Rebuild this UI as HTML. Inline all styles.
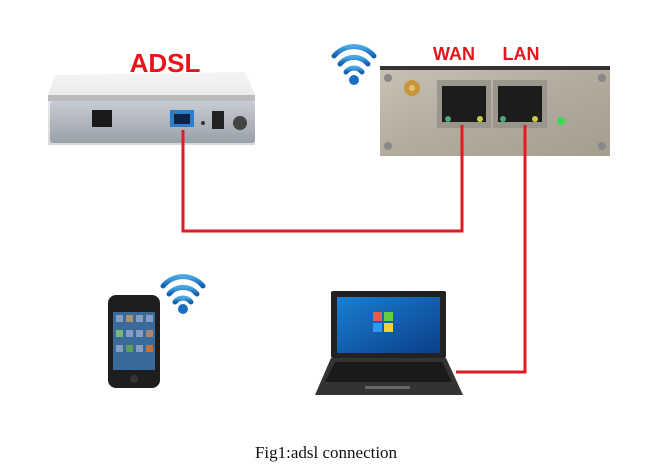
<!DOCTYPE html>
<html><head><meta charset="utf-8"><style>
body{margin:0;background:#fff;width:650px;height:475px;overflow:hidden}
svg{display:block}
</style></head><body>
<svg width="650" height="475" viewBox="0 0 650 475" xmlns="http://www.w3.org/2000/svg">
<defs>
<linearGradient id="mtop" x1="0" y1="0" x2="0" y2="1"><stop offset="0" stop-color="#f4f4f4"/><stop offset="1" stop-color="#d8d8d8"/></linearGradient>
<linearGradient id="mfront" x1="0" y1="0" x2="0" y2="1"><stop offset="0" stop-color="#c8ccd4"/><stop offset="1" stop-color="#9aa0aa"/></linearGradient>
<linearGradient id="rt" x1="0" y1="0" x2="1" y2="1"><stop offset="0" stop-color="#c9c2b4"/><stop offset="0.5" stop-color="#b3ab9d"/><stop offset="1" stop-color="#a59d90"/></linearGradient>
<linearGradient id="scr" x1="0" y1="0" x2="1" y2="1"><stop offset="0" stop-color="#1a7fd0"/><stop offset="1" stop-color="#0a3f8a"/></linearGradient>
<linearGradient id="wf" x1="0" y1="0" x2="0" y2="1"><stop offset="0" stop-color="#4aa7e6"/><stop offset="1" stop-color="#1060b0"/></linearGradient>
</defs>
<!-- ADSL modem -->
<path d="M55 75 L245 72 L255 95 L255 145 L48 145 L48 95 Z" fill="url(#mtop)"/>
<rect x="48" y="95" width="207" height="6" fill="#bbb"/>
<rect x="50" y="101" width="205" height="42" fill="url(#mfront)" rx="3"/>
<rect x="92" y="110" width="20" height="17" fill="#1a1a1a"/>
<rect x="170" y="110" width="24" height="17" fill="#2a7fc8"/>
<rect x="174" y="114" width="16" height="10" fill="#124"/>
<circle cx="203" cy="123" r="2" fill="#333"/>
<rect x="212" y="111" width="12" height="18" fill="#222"/>
<circle cx="240" cy="123" r="7" fill="#444"/>
<text x="165" y="72" text-anchor="middle" font-family="Liberation Sans, sans-serif" font-weight="bold" font-size="26" fill="#e8141c">ADSL</text>
<!-- router -->
<rect x="380" y="68" width="230" height="88" fill="url(#rt)"/>
<rect x="380" y="66" width="230" height="4" fill="#333"/>
<circle cx="388" cy="78" r="4" fill="#888"/><circle cx="602" cy="78" r="4" fill="#888"/>
<circle cx="388" cy="146" r="4" fill="#888"/><circle cx="602" cy="146" r="4" fill="#888"/>
<circle cx="412" cy="88" r="8" fill="#c8963a"/><circle cx="412" cy="88" r="3" fill="#e8c070"/>
<rect x="437" y="80" width="54" height="48" fill="#9a968c"/>
<rect x="442" y="86" width="44" height="36" fill="#1c1c1c"/>
<rect x="493" y="80" width="54" height="48" fill="#9a968c"/>
<rect x="498" y="86" width="44" height="36" fill="#1c1c1c"/>
<circle cx="448" cy="119" r="3" fill="#4a7"/><circle cx="480" cy="119" r="3" fill="#cc4"/>
<circle cx="503" cy="119" r="3" fill="#4a7"/><circle cx="535" cy="119" r="3" fill="#cc4"/>
<circle cx="561" cy="121" r="4" fill="#3d5"/>
<text x="454" y="60" text-anchor="middle" font-family="Liberation Sans, sans-serif" font-weight="bold" font-size="18" fill="#e8141c">WAN</text>
<text x="521" y="60" text-anchor="middle" font-family="Liberation Sans, sans-serif" font-weight="bold" font-size="18" fill="#e8141c">LAN</text>
<!-- wifi icons -->
<g fill="none" stroke="url(#wf)" stroke-width="5" stroke-linecap="round">
<path d="M334 56 A26 26 0 0 1 374 56"/><path d="M340 64 A18 18 0 0 1 368 64"/><path d="M346 72 A10 10 0 0 1 362 72"/>
<path d="M163 286 A26 26 0 0 1 203 286"/><path d="M169 294 A18 18 0 0 1 197 294"/><path d="M175 302 A10 10 0 0 1 191 302"/>
</g>
<circle cx="354" cy="80" r="5" fill="#1a6fc0"/><circle cx="183" cy="309" r="5" fill="#1a6fc0"/>
<!-- red lines -->
<g fill="none" stroke="#e21b23" stroke-width="3">
<polyline points="183,130 183,231 462,231 462,125"/>
<polyline points="525,125 525,372 456,372"/>
</g>
<!-- phone -->
<rect x="108" y="295" width="52" height="93" rx="8" fill="#1e1e1e"/>
<rect x="113" y="312" width="42" height="58" fill="#3a6a9a"/>
<g fill="#9ac" opacity="0.8"><rect x="116" y="315" width="7" height="7"/><rect x="126" y="315" width="7" height="7" fill="#c96"/><rect x="136" y="315" width="7" height="7"/><rect x="146" y="315" width="7" height="7"/><rect x="116" y="330" width="7" height="7" fill="#8c6"/><rect x="126" y="330" width="7" height="7"/><rect x="136" y="330" width="7" height="7"/><rect x="146" y="330" width="7" height="7" fill="#c86"/><rect x="116" y="345" width="7" height="7"/><rect x="126" y="345" width="7" height="7" fill="#6a4"/><rect x="136" y="345" width="7" height="7"/><rect x="146" y="345" width="7" height="7" fill="#d73"/></g>
<circle cx="134" cy="379" r="4" fill="#333"/>
<!-- laptop -->
<rect x="331" y="291" width="115" height="67" rx="2" fill="#222"/>
<rect x="337" y="297" width="103" height="56" fill="url(#scr)"/>
<rect x="373" y="312" width="9" height="9" fill="#e55"/><rect x="384" y="312" width="9" height="9" fill="#6c4"/><rect x="373" y="323" width="9" height="9" fill="#39e"/><rect x="384" y="323" width="9" height="9" fill="#fc3"/>
<path d="M331 358 L446 358 L463 395 L315 395 Z" fill="#333"/>
<path d="M335 362 L442 362 L452 382 L325 382 Z" fill="#1a1a1a"/>
<rect x="365" y="386" width="45" height="3" fill="#666"/>
<!-- caption -->
<text x="326" y="458" text-anchor="middle" font-family="Liberation Serif, serif" font-size="17" fill="#111">Fig1:adsl connection</text>
</svg>
</body></html>
